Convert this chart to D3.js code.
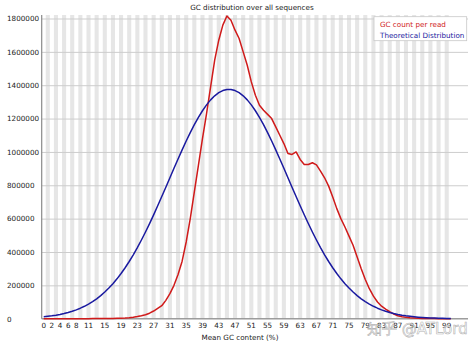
<!DOCTYPE html>
<html>
<head>
<meta charset="utf-8">
<script src="https://cdn.jsdelivr.net/npm/d3@7"></script>
<style>
  body { margin: 0; background: #fff; }
  text { font-family: "DejaVu Sans", sans-serif; }
</style>
</head>
<body>
<svg id="chart" width="474" height="349"></svg>
<script>
// GC content bins (0-100 %)
const gcBins = d3.range(0, 101);

// Number of reads per mean GC value
const gcCountPerRead = [
  0, 0, 0, 0, 0, 0, 0, 0, 100, 200,
  300, 400, 500, 700, 900, 1100, 1400, 1800, 2300, 3000,
  4000, 6000, 9000, 13000, 18000, 24000, 33000, 46000, 62000, 78000,
  110000, 150000, 200000, 265000, 345000, 460000, 600000, 760000, 920000, 1080000,
  1230000, 1390000, 1550000, 1670000, 1760000, 1815000, 1790000, 1730000, 1680000, 1600000,
  1520000, 1420000, 1340000, 1280000, 1250000, 1225000, 1200000, 1150000, 1100000, 1050000,
  990000, 985000, 1000000, 955000, 925000, 925000, 935000, 922000, 885000, 845000,
  795000, 730000, 660000, 600000, 550000, 495000, 440000, 370000, 300000, 235000,
  180000, 135000, 100000, 75000, 58000, 42000, 28000, 18000, 12000, 8000,
  5000, 3500, 2500, 1800, 1300, 900, 600, 400, 300, 200,
  100
];

// Theoretical (normal) distribution for the same bins
const theoreticalDist = [
  11400, 14100, 17200, 21100, 25600, 30900, 37200, 44600, 53100, 63000,
  74400, 87500, 102500, 119400, 138400, 159800, 183600, 209900, 239000, 270800,
  305400, 342900, 383200, 426300, 471900, 520000, 570500, 622900, 677000, 732400,
  788600, 845300, 901900, 957900, 1012500, 1065300, 1115900, 1163300, 1207200, 1246900,
  1282000, 1312100, 1336600, 1355300, 1367900, 1374200, 1374200, 1367900, 1355300, 1336600,
  1312100, 1282000, 1246900, 1207200, 1163300, 1115900, 1065300, 1012500, 957900, 901900,
  845300, 788600, 732400, 677000, 622900, 570500, 520000, 471900, 426300, 383200,
  342900, 305400, 270800, 239000, 209900, 183600, 159800, 138400, 119400, 102500,
  87500, 74400, 63000, 53100, 44600, 37200, 30900, 25600, 21100, 17200,
  14100, 11400, 9200, 7400, 6000, 4700, 3800, 3000, 2300, 1800,
  1400
];

const xTickLabels = [0, 2, 4, 6, 8, 11, 15, 19, 23, 27, 31, 35, 39, 43, 47, 51, 55, 59, 63, 67, 71, 75, 79, 83, 87, 91, 95, 99];
const yTicks = [0, 200000, 400000, 600000, 800000, 1000000, 1200000, 1400000, 1600000, 1800000];

const seriesNames = ["GC count per read", "Theoretical Distribution"];
const seriesColors = ["#d01a1a", "#1a1aa0"];

const svg = d3.select("#chart");
const plotLeft = 41.7, plotRight = 452.8, gridRight = 468, plotTop = 15, plotBottom = 318.7;

const x = d3.scaleBand().domain(gcBins).range([plotLeft, plotRight]).padding(0);
const bw = x.bandwidth();
const y = d3.scaleLinear().domain([0, 1800000]).range([plotBottom, 18.5]);

// alternating background bands
svg.append("g").selectAll("rect")
  .data(gcBins.filter(d => d % 2 === 1))
  .join("rect")
  .attr("x", d => x(d))
  .attr("y", plotTop)
  .attr("width", bw)
  .attr("height", plotBottom - plotTop)
  .attr("fill", "#e6e6e6");

// horizontal gridlines + y labels
const yAxis = svg.append("g")
  .attr("transform", `translate(${plotLeft},0)`)
  .call(d3.axisLeft(y).tickValues(yTicks).tickSize(-(gridRight - plotLeft)).tickFormat(d3.format("d")));
yAxis.select(".domain").remove();
yAxis.selectAll(".tick line").attr("stroke", "#cdcdcd").attr("stroke-width", 1);
yAxis.selectAll(".tick text")
  .attr("x", 7 - plotLeft)
  .attr("text-anchor", "start")
  .attr("font-size", 7.2)
  .attr("font-family", "DejaVu Sans, sans-serif")
  .attr("fill", "#222");

// x labels
const xAxis = svg.append("g")
  .attr("transform", `translate(0,${plotBottom})`)
  .call(d3.axisBottom(x).tickValues(xTickLabels).tickSize(0).tickPadding(3.9));
xAxis.select(".domain").remove();
xAxis.selectAll(".tick text")
  .attr("font-size", 7.2)
  .attr("font-family", "DejaVu Sans, sans-serif")
  .attr("fill", "#222");

// axis lines
svg.append("line").attr("x1", plotLeft).attr("x2", plotLeft).attr("y1", plotTop).attr("y2", plotBottom)
  .attr("stroke", "#8a8a8a").attr("stroke-width", 1.2);
svg.append("line").attr("x1", plotLeft).attr("x2", gridRight).attr("y1", plotBottom).attr("y2", plotBottom)
  .attr("stroke", "#8a8a8a").attr("stroke-width", 1);

// series lines
const line = d3.line()
  .x((v, i) => x(gcBins[i]) + bw / 2)
  .y(v => y(v));

[gcCountPerRead, theoreticalDist].forEach((vals, k) => {
  svg.append("path")
    .datum(vals)
    .attr("d", line)
    .attr("fill", "none")
    .attr("stroke", seriesColors[k])
    .attr("stroke-width", 1.5)
    .attr("stroke-linejoin", "round");
});

// title and axis title
svg.append("text").attr("x", 252).attr("y", 10).attr("text-anchor", "middle")
  .attr("font-size", 7.2).attr("fill", "#222").text("GC distribution over all sequences");
svg.append("text").attr("x", 240).attr("y", 339.5).attr("text-anchor", "middle")
  .attr("font-size", 7.2).attr("fill", "#222").text("Mean GC content (%)");

// legend
const lg = svg.append("g");
lg.append("rect").attr("x", 374).attr("y", 16.7).attr("width", 92.7).attr("height", 24)
  .attr("fill", "#fff").attr("stroke", "#c8c8c8").attr("stroke-width", 0.8);
seriesNames.forEach((name, k) => {
  lg.append("text").attr("x", 380).attr("y", 26.8 + k * 10.8)
    .attr("font-size", 7.2).attr("fill", seriesColors[k]).text(name);
});

// watermark
svg.append("text").attr("x", 367).attr("y", 334)
  .attr("font-family", "Noto Sans CJK SC, sans-serif")
  .attr("font-size", 15)
  .attr("fill", "#ffffff").attr("fill-opacity", 0.7)
  .attr("stroke", "#a0a0a0").attr("stroke-width", 0.6).attr("stroke-opacity", 0.8)
  .text("知乎 @ATLord");
</script>
</body>
</html>
